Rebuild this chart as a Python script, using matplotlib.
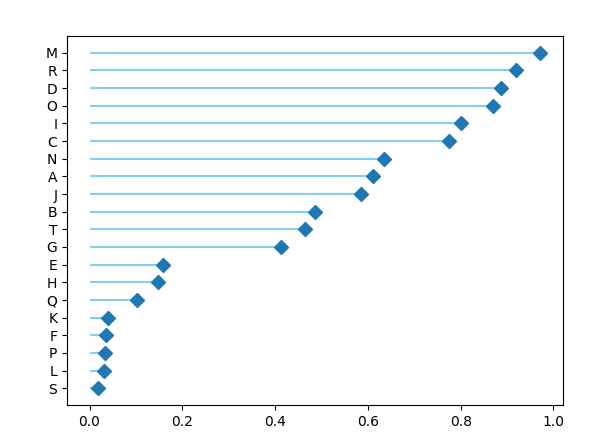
import matplotlib
matplotlib.use("Agg")
import matplotlib.pyplot as plt

labels = ["S", "L", "P", "F", "K", "Q", "H", "E", "G", "T",
          "B", "J", "A", "N", "C", "I", "O", "D", "R", "M"]
values = [0.019, 0.032, 0.034, 0.036, 0.040, 0.103, 0.147, 0.158, 0.413, 0.465,
          0.485, 0.585, 0.610, 0.634, 0.774, 0.801, 0.869, 0.886, 0.920, 0.972]

fig = plt.figure(figsize=(6.10, 4.44), dpi=100)
ax = fig.add_axes([67/610, 39/444, 496/610, 369/444])
pos = list(range(len(labels)))
ax.hlines(y=pos, xmin=0, xmax=values, color="skyblue", linewidth=1.5)
ax.plot(values, pos, "D", color="C0", markersize=7.5)
ax.set_yticks(pos)
ax.set_yticklabels(labels)
fig.savefig("out.png", dpi=100)
